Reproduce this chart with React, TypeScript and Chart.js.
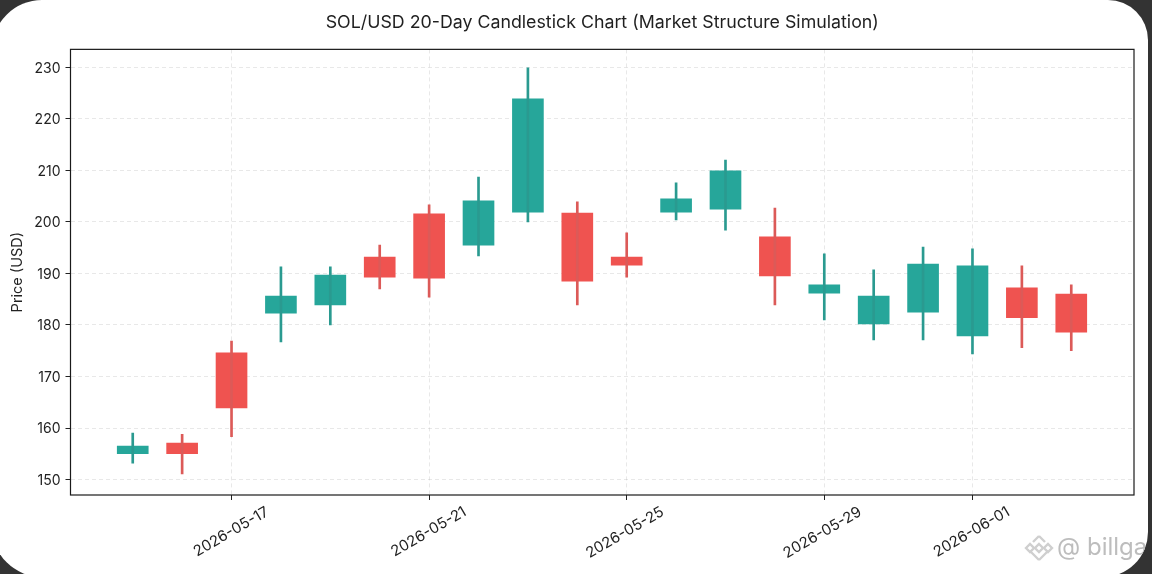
import React, { useEffect, useRef } from "react";
import { Chart, registerables } from "chart.js";

Chart.register(...registerables);

const dates = [
  "2026-05-15", "2026-05-16", "2026-05-17", "2026-05-18", "2026-05-19",
  "2026-05-20", "2026-05-21", "2026-05-22", "2026-05-23", "2026-05-24",
  "2026-05-25", "2026-05-26", "2026-05-27", "2026-05-28", "2026-05-29",
  "2026-05-30", "2026-05-31", "2026-06-01", "2026-06-02", "2026-06-03",
];
const opens = [155.0, 157.1, 174.6, 182.3, 183.9, 193.2, 201.6, 195.5, 201.9, 201.7, 193.2, 201.9, 202.5, 197.1, 186.2, 180.2, 182.5, 177.9, 187.2, 186.0];
const closes = [156.5, 155.0, 163.9, 185.6, 189.7, 189.3, 189.1, 204.1, 223.9, 188.5, 191.6, 204.5, 209.9, 189.5, 187.8, 185.6, 191.8, 191.5, 181.4, 178.6];
const highs = [159.0, 158.8, 176.9, 191.3, 191.3, 195.5, 203.3, 208.7, 229.9, 203.9, 197.9, 207.6, 212.0, 202.7, 193.8, 190.7, 195.1, 194.8, 191.5, 187.8];
const lows = [153.2, 151.1, 158.3, 176.7, 180.0, 187.0, 185.4, 193.4, 200.0, 183.9, 189.3, 200.4, 198.4, 183.9, 181.0, 177.1, 177.1, 174.4, 175.6, 175.0];
const xTickDates = ["2026-05-17", "2026-05-21", "2026-05-25", "2026-05-29", "2026-06-01"];
const yTicks = [150, 160, 170, 180, 190, 200, 210, 220, 230];

const TITLE = "SOL/USD 20-Day Candlestick Chart (Market Structure Simulation)";
const FONT = "Inter, 'Open Sans', sans-serif";
const UP = "#26a69a";
const DOWN = "#ef5350";
const UP_WICK = "#2a9a90";
const DOWN_WICK = "#dc5a58";

const frame = {
  id: "frame",
  afterDatasetsDraw(chart: any) {
    const { ctx, chartArea: a } = chart;
    ctx.save();
    ctx.strokeStyle = "#1a1a1a";
    ctx.lineWidth = 1.2;
    ctx.strokeRect(a.left, a.top, a.right - a.left, a.bottom - a.top);
    ctx.restore();
  },
};

export default function App() {
  const ref = useRef<HTMLCanvasElement>(null);
  useEffect(() => {
    const xs = dates.map((_, i) => i);
    const isUp = dates.map((_, i) => closes[i] >= opens[i]);
    const chart = new Chart(ref.current as HTMLCanvasElement, {
      type: "bar",
      data: {
        datasets: [
          {
            label: "High-Low",
            data: xs.map((x) => ({ x, y: [lows[x], highs[x]] })) as any,
            backgroundColor: isUp.map((u) => (u ? UP_WICK : DOWN_WICK)),
            barThickness: 2,
            grouped: false,
          },
          {
            label: "Open-Close",
            data: xs.map((x) => ({ x, y: [opens[x], closes[x]] })) as any,
            backgroundColor: isUp.map((u) => (u ? UP : DOWN)),
            barThickness: 31,
            grouped: false,
          },
        ],
      },
      options: {
        animation: false,
        responsive: false,
        layout: { padding: { left: 0, right: 18, top: 0, bottom: 0 } },
        plugins: {
          legend: { display: false },
          tooltip: { enabled: false },
          title: {
            display: true,
            text: TITLE,
            fullSize: false,
            color: "#1f1f1f",
            font: { family: FONT, size: 17.8, weight: "normal" },
            padding: { top: 12, bottom: 16 },
          },
        },
        scales: {
          x: {
            type: "linear",
            offset: false,
            min: -1.26,
            max: 20.27,
            afterBuildTicks(scale: any) {
              scale.ticks = xTickDates.map((d) => ({ value: dates.indexOf(d) }));
            },
            afterFit(scale: any) {
              scale.height = 79;
            },
            ticks: {
              autoSkip: false,
              maxRotation: 30,
              minRotation: 30,
              labelOffset: 36,
              padding: 3,
              color: "#222",
              font: { family: FONT, size: 15 },
              callback: (v: any) => dates[v as number],
            },
            grid: {
              offset: false,
              color: "rgba(150,150,150,0.22)",
              tickColor: "#222",
              tickLength: 5,
              tickBorderDash: [],
            },
            border: { display: false, dash: [4, 3] },
          },
          y: {
            min: 147,
            max: 233.5,
            afterBuildTicks(scale: any) {
              scale.ticks = yTicks.map((value) => ({ value }));
            },
            afterFit(scale: any) {
              scale.width = 70.5;
            },
            title: {
              display: true,
              text: "Price (USD)",
              color: "#222",
              font: { family: FONT, size: 14.5 },
              padding: { top: 9, bottom: 0 },
            },
            ticks: {
              padding: 5,
              labelOffset: 1,
              color: "#222",
              font: { family: FONT, size: 14 },
            },
            grid: {
              color: "rgba(150,150,150,0.22)",
              tickColor: "#222",
              tickLength: 5,
              tickBorderDash: [],
            },
            border: { display: false, dash: [4, 3] },
          },
        },
      },
      plugins: [frame],
    } as any);
    return () => chart.destroy();
  }, []);

  return (
    <div style={{ position: "fixed", left: 0, top: 0, width: 1152, height: 574, overflow: "hidden", background: "#333" }}>
      <div
        style={{
          position: "absolute",
          left: -8,
          top: 0,
          width: 1156,
          height: 577,
          background: "#fff",
          overflow: "hidden",
          borderRadius: "50px 40px 45px 50px",
        }}
      >
        <canvas ref={ref} width={1152} height={574} style={{ position: "absolute", left: 8, top: 0, display: "block" }} />
        <svg width="30" height="30" viewBox="0 0 30 30" style={{ position: "absolute", left: 1032, top: 533 }}>
          <g fill="none" stroke="#cfcfcf" strokeWidth="2.4">
            <path d="M15 3 L21 9 M15 3 L9 9" />
            <path d="M15 27 L24 18 M15 27 L6 18" />
            <path d="M2 15 L6 11 L10 15 L6 19 Z" />
            <path d="M28 15 L24 11 L20 15 L24 19 Z" />
            <path d="M15 11 L19 15 L15 19 L11 15 Z" />
          </g>
        </svg>
        <div
          style={{
            position: "absolute",
            left: 1065,
            top: 532,
            fontFamily: FONT,
            fontSize: 24,
            lineHeight: "30px",
            color: "#bdbdbd",
            whiteSpace: "nowrap",
          }}
        >
          @ billga
        </div>
      </div>
    </div>
  );
}
